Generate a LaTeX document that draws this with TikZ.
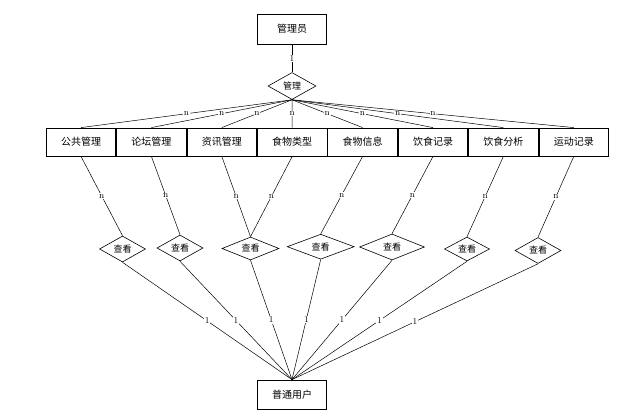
\documentclass[tikz,border=0pt]{standalone}
\usepackage{fontspec}
\newfontfamily\cjk{Noto Sans CJK SC}
\usetikzlibrary{shapes.geometric, positioning}

\begin{document}
\begin{tikzpicture}[
        x=1pt, y=-1pt,
        ent/.style={draw,line width=0.8pt,minimum width=69.6pt,minimum height=28pt,inner sep=1pt,font=\cjk\fontsize{10}{10}\selectfont},
        rel/.style={diamond,draw,line width=0.6pt,aspect=2,inner sep=0pt,font=\cjk\fontsize{9}{9}\selectfont},
        card/.style={fill=white,inner sep=0.8pt,font=\fontsize{9}{9}\selectfont},
        link/.style={line width=0.5pt}
    ]
    \useasboundingbox (0,0) rectangle (632,414);
    \node[ent,minimum height=30pt] (admin) at (292,29) {管理员};
    \node[rel,minimum width=48pt,minimum height=27pt] (manage) at (292,86) {管理};
    % row of entities
    \node[ent] (gg) at (81,142) {公共管理};
    \node[ent,right=0pt of gg]   (lt)   {论坛管理};
    \node[ent,right=0pt of lt]   (zx)   {资讯管理};
    \node[ent,right=0pt of zx]   (swlx) {食物类型};
    \node[ent,right=0pt of swlx] (swxx) {食物信息};
    \node[ent,right=0pt of swxx] (ysjl) {饮食记录};
    \node[ent,right=0pt of ysjl] (ysfx) {饮食分析};
    \node[ent,right=0pt of ysfx] (ydjl) {运动记录};
    % view relations
    \node[rel,minimum width=46pt,minimum height=26pt] (ck1) at (122.5,249) {查看};
    \node[rel,minimum width=46pt,minimum height=26pt] (ck2) at (180,248) {查看};
    \node[rel,minimum width=57pt,minimum height=23pt] (ck3) at (250.5,248.5) {查看};
    \node[rel,minimum width=67pt,minimum height=25pt] (ck4) at (320.7,246.7) {查看};
    \node[rel,minimum width=65pt,minimum height=26pt] (ck5) at (392,247) {查看};
    \node[rel,minimum width=45pt,minimum height=24pt] (ck6) at (467,249) {查看};
    \node[rel,minimum width=46pt,minimum height=26pt] (ck7) at (538,250.5) {查看};
    \node[ent,minimum height=29pt] (user) at (292,394.5) {普通用户};
    \draw[link] (admin) -- node[card] {1} (manage);
    \foreach \e in {gg,lt,zx,swlx,swxx,ysjl,ysfx,ydjl}
        \draw[link] (manage.south) -- node[card] {n} (\e.north);
    \foreach \e/\r in {gg/ck1,lt/ck2,zx/ck3,swlx/ck3,swxx/ck4,ysjl/ck5,ysfx/ck6,ydjl/ck7}
        \draw[link] (\e.south) -- node[card] {n} (\r.north);
    \foreach \r in {ck1,ck2,ck3,ck4,ck5,ck6,ck7}
        \draw[link] (\r.south) -- node[card] {1} (user.north);
\end{tikzpicture}
\end{document}
